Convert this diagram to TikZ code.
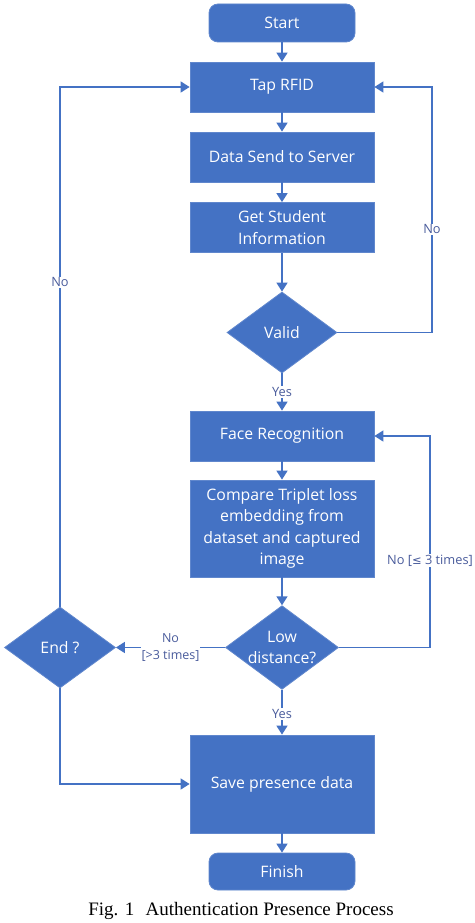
\documentclass[tikz,border=0pt]{standalone}
\usepackage{fontspec}
\setmainfont{Liberation Serif}
\newfontfamily\boxfont{Open Sans}
\newfontfamily\dvfont{DejaVu Sans}
\usetikzlibrary{shapes.geometric,arrows.meta}
\definecolor{fcblue}{HTML}{4472C4}
\definecolor{lblcol}{HTML}{4A5C9C}
\begin{document}
\begin{tikzpicture}[x=1pt,y=-1pt,
  proc/.style={draw=fcblue!85!white,line width=0.8pt,fill=fcblue,text=white,inner sep=0pt,
    font=\boxfont\fontsize{15.8}{21.5}\selectfont,align=center},
  term/.style={proc,rounded corners=9pt},
  dec/.style={diamond,draw=fcblue!85!white,line width=0.8pt,fill=fcblue,text=white,inner sep=0pt,
    font=\boxfont\fontsize{15.8}{21.5}\selectfont,align=center,aspect=1.35},
  conn/.style={draw=fcblue,line width=1.6pt,-{Triangle[width=11pt,length=9pt]}},
  lbl/.style={font=\boxfont\fontsize{12.8}{16}\selectfont,text=lblcol,fill=white,inner sep=1pt,align=center}
]
\useasboundingbox (0,0) rectangle (474,923);
\fill[white] (0,0) rectangle (474,923);

\node[term,minimum width=146pt,minimum height=38pt] (start) at (282,23) {Start};
\node[proc,minimum width=184pt,minimum height=50pt] (tap) at (282,87) {Tap RFID};
\node[proc,minimum width=184pt,minimum height=50pt] (data) at (282,157) {Data Send to Server};
\node[proc,minimum width=184pt,minimum height=50pt] (get) at (282,227.5) {Get Student\\Information};
\node[dec,minimum width=110pt,minimum height=81pt] (valid) at (282,332.5) {Valid};
\node[proc,minimum width=184pt,minimum height=50pt] (face) at (282,436) {Face Recognition};
\node[proc,minimum width=184pt,minimum height=97pt] (cmp) at (282,528.5) {Compare Triplet loss\\embedding from\\dataset and captured\\image};
\node[dec,minimum width=108pt,minimum height=81pt] (low) at (282,647.5) {Low\\distance?};
\node[dec,minimum width=111pt,minimum height=81pt] (endq) at (60,647.5) {End ?};
\node[proc,minimum width=184pt,minimum height=98pt] (save) at (282,784) {Save presence data};
\node[term,minimum width=146pt,minimum height=37pt] (fin) at (282,871.5) {Finish};

\coordinate (rv) at (432,0);
\coordinate (rl) at (430,0);

\draw[conn] (start) -- (tap);
\draw[conn] (tap) -- (data);
\draw[conn] (data) -- (get);
\draw[conn] (get) -- (valid);
\draw[conn] (valid) -- node[lbl,pos=0.5]{Yes} (face);
\draw[conn] (valid.east) -- (valid.east -| rv) |- node[lbl,pos=0.21]{No} (tap.east);
\draw[conn] (face) -- (cmp);
\draw[conn] (cmp) -- (low);
\draw[conn] (low.east) -- (low.east -| rl) |- node[lbl,pos=0.205]{No [{\dvfont\fontsize{11.5}{14}\selectfont≤} 3 times]} (face.east);
\draw[conn] (low.west) -- node[lbl,pos=0.5,font=\boxfont\fontsize{12.5}{17}\selectfont]{No\\{}[>3 times]} (endq.east);
\draw[conn] (low) -- node[lbl,pos=0.54]{Yes} (save);
\draw[conn] (endq.north) |- node[lbl,pos=0.312]{No} (tap.west);
\draw[conn] (endq.south) |- (save.west);
\draw[conn] (save) -- (fin);

\node[font=\fontsize{19}{22}\selectfont,inner sep=0pt] (cap) at (241,911) {Fig. 1\hspace{0.6em}Authentication Presence Process};
\end{tikzpicture}
\end{document}
